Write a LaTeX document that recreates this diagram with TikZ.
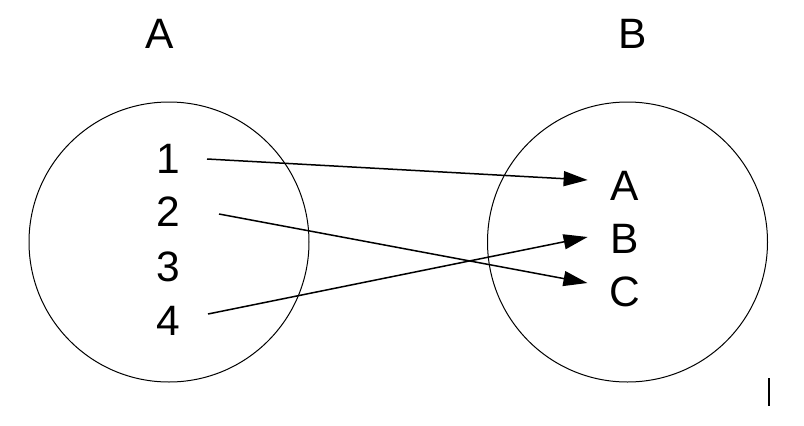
\documentclass[tikz,border=0pt]{standalone}
\usepackage{fontspec}
\setmainfont{Liberation Sans}
\usepackage{tikz}
\usetikzlibrary{arrows.meta, positioning}
\tikzset{
  MapArrow/.style = {
    draw,
    line width = 1.5pt,
    -{Triangle[length = 24pt, width = 15pt]},
  },
  SetCircle/.style = {
    circle, draw, line width = 1pt, minimum size = 280pt, inner sep = 0pt,
  },
  Elem/.style = {
    inner sep = 0pt, font = \fontsize{42.5}{42.5}\selectfont,
  }
}

\begin{document}
\begin{tikzpicture}[x=1pt, y=-1pt]
      \useasboundingbox (0,0) rectangle (804,426);
      \draw
        (169,242)node[SetCircle](setA){}
        (627.5,242)node[SetCircle](setB){}
        (160,34)node[Elem](nameA){A}
        (633,34)node[Elem](nameB){B}
        (168,159)node[Elem](n1){1}
        (168,212)node[Elem](n2){2}
        (168,267)node[Elem](n3){3}
        (168,321)node[Elem](n4){4}
        (625,186)node[Elem](la){A}
        (625,239)node[Elem](lb){B}
        (625,292)node[Elem](lc){C};
      \draw([xshift=27pt]n1.east)[MapArrow] -- ([xshift=-23pt, yshift=6pt]la.west);
      \draw([xshift=39pt, yshift=-2pt]n2.east)[MapArrow] -- ([xshift=-22pt, yshift=9pt]lc.west);
      \draw([xshift=28pt, yshift=7pt]n4.east)[MapArrow] -- ([xshift=-23pt, yshift=2pt]lb.west);
      \coordinate (tickTop) at (769,378);
      \coordinate (tickBot) at (769,406);
      \draw[line width=2pt] (tickTop) -- (tickBot);
    \end{tikzpicture}
\end{document}
